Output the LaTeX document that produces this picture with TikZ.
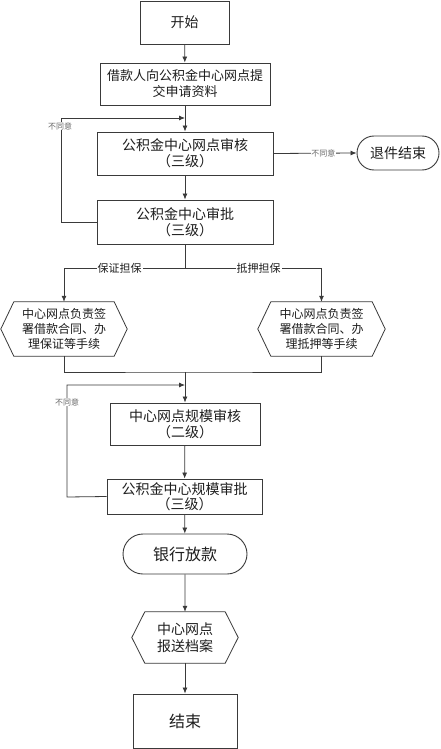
\documentclass[tikz,border=0pt]{standalone}
\usepackage{fontspec}
\newfontfamily\cjk{Noto Sans CJK SC}
\usetikzlibrary{arrows.meta,shapes.misc}
\definecolor{ln}{HTML}{3A3A3A}
\definecolor{tx}{HTML}{1E1E1E}
\definecolor{lab}{HTML}{6A6A6A}
\tikzset{
  base/.style={draw=ln,line width=0.9pt,text=tx,inner sep=0pt,align=center,font=\cjk\fontsize{14}{16}\selectfont},
  boxn/.style={base,rectangle},
  stad/.style={base,rounded rectangle},
  hexn/.style={inner sep=0pt,align=center,text=tx,rectangle},
  conn/.style={draw=ln,line width=0.8pt},
  arr/.style={conn,-{Latex[length=6pt,width=5pt]}},
  small/.style={font=\cjk\fontsize{8}{9}\selectfont,text=lab,fill=white,inner sep=0.5pt},
  mid/.style={font=\cjk\fontsize{11}{12}\selectfont,text=tx,fill=white,inner sep=1pt}
}
\newcommand\hexo[2]{\draw[conn] (#1.west) -- ([xshift=#2]#1.north west) -- ([xshift=-#2]#1.north east) -- (#1.east) -- ([xshift=-#2]#1.south east) -- ([xshift=#2]#1.south west) -- cycle;}
\begin{document}
\begin{tikzpicture}[x=1pt,y=-1pt]
\useasboundingbox[fill=white] (0,0) rectangle (440,749);
% nodes
\node[boxn,minimum width=89pt,minimum height=43pt] (start) at (184.5,22.5) {开始};
\node[boxn,minimum width=170pt,minimum height=42pt,font=\cjk\fontsize{13}{16}\selectfont] (apply) at (185,84) {借款人向公积金中心网点提\\交申请资料};
\node[boxn,minimum width=176pt,minimum height=43pt] (review) at (185,153.5) {公积金中心网点审核\\（三级）};
\node[stad,minimum width=82pt,minimum height=34pt] (reject) at (398,153) {退件结束};
\node[boxn,minimum width=176pt,minimum height=44pt] (approve) at (185,222) {公积金中心审批\\（三级）};
\node[hexn,minimum width=126pt,minimum height=54pt,font=\cjk\fontsize{12}{15}\selectfont] (lhex) at (64,329) {中心网点负责签\\署借款合同、办\\理保证等手续};
\node[hexn,minimum width=127pt,minimum height=54pt,font=\cjk\fontsize{12}{15}\selectfont] (rhex) at (321.5,329) {中心网点负责签\\署借款合同、办\\理抵押等手续};
\node[boxn,minimum width=150pt,minimum height=42pt] (scaleA) at (185,424) {中心网点规模审核\\（二级）};
\node[boxn,minimum width=155pt,minimum height=35pt,font=\cjk\fontsize{14}{15}\selectfont] (scaleB) at (184.5,496.5) {公积金中心规模审批\\（三级）};
\node[stad,minimum width=124pt,minimum height=40pt,font=\cjk\fontsize{16}{18}\selectfont] (bank) at (185,554) {银行放款};
\node[hexn,minimum width=106pt,minimum height=51pt,font=\cjk\fontsize{14}{17}\selectfont] (archive) at (185,637.5) {中心网点\\报送档案};
\node[boxn,minimum width=104pt,minimum height=54pt,font=\cjk\fontsize{16}{18}\selectfont] (end) at (185,721) {结束};
\hexo{lhex}{13pt}
\hexo{rhex}{13pt}
\hexo{archive}{13pt}
% coordinates
\coordinate (j1) at (185,118);
\coordinate (split) at (185,268);
\coordinate (merge) at (185,372);
\coordinate (j2) at (185,385);
% connectors
\draw[arr] (start) -- (apply);
\draw[arr] (apply) -- (review);
\draw[arr] (approve.west) -- (61,222) -- (61,118) -- (j1);
\node[small] (na1) at (60,126) {不同意};
\draw[arr] (review.east) -- (reject.west) node[small,pos=0.6] (na2) {不同意};
\draw[arr] (review) -- (approve);
\draw[conn] (approve.south) -- (split);
\draw[arr] (split) -| (lhex.north) node[mid,pos=0.27] (g1) {保证担保};
\draw[arr] (split) -| (rhex.north) node[mid,pos=0.27] (g2) {抵押担保};
\draw[conn] (lhex.south) |- (merge) -| (rhex.south);
\draw[arr] (merge) -- (scaleA);
\draw[arr] (scaleB.west) -- (67,497) -- (67,385) -- (j2);
\node[small] (na3) at (67,402) {不同意};
\draw[arr] (scaleA) -- (scaleB);
\draw[arr] (scaleB) -- (bank);
\draw[arr] (bank) -- (archive);
\draw[arr] (archive) -- (end);
\end{tikzpicture}
\end{document}
